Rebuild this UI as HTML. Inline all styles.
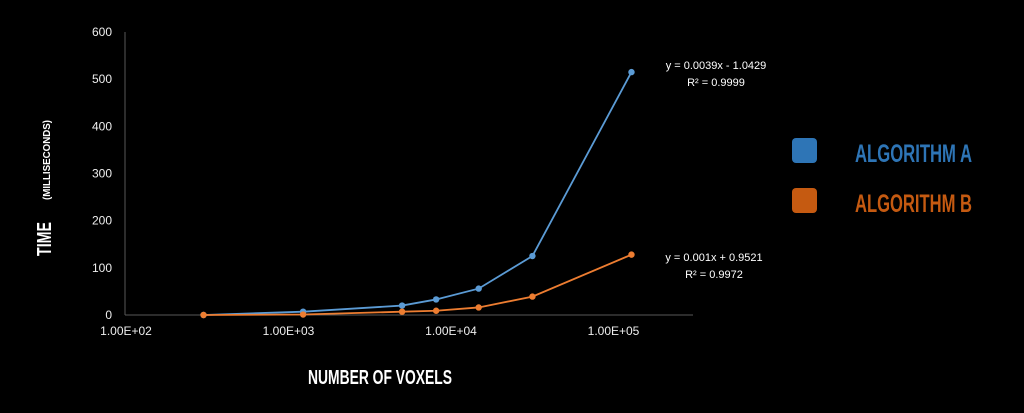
<!DOCTYPE html>
<html><head><meta charset="utf-8"><style>
body{margin:0;background:#000;}
svg{display:block;}
.cond{font-family:"Liberation Sans",sans-serif;font-weight:bold;}
</style></head><body>
<svg id="chart" width="1024" height="413" viewBox="0 0 1024 413" xmlns="http://www.w3.org/2000/svg">
<rect width="1024" height="413" fill="#000"/>
<g id="axes"></g>
<g id="series"></g>
<text x="716" y="69" fill="#fff" font-family="Liberation Sans, sans-serif" font-size="11" text-anchor="middle">y = 0.0039x - 1.0429</text>
<text x="716" y="86" fill="#fff" font-family="Liberation Sans, sans-serif" font-size="11" text-anchor="middle">R² = 0.9999</text>
<text x="714" y="261" fill="#fff" font-family="Liberation Sans, sans-serif" font-size="11" text-anchor="middle">y = 0.001x + 0.9521</text>
<text x="714" y="278" fill="#fff" font-family="Liberation Sans, sans-serif" font-size="11" text-anchor="middle">R² = 0.9972</text>
<g>
<rect x="792" y="138" width="25" height="25" rx="4" fill="#2e75b6"/>
<text class="cond" x="855" y="162" fill="#2e75b6" font-size="25" textLength="117" lengthAdjust="spacingAndGlyphs">ALGORITHM A</text>
<rect x="792" y="188" width="25" height="25" rx="4" fill="#c55a11"/>
<text class="cond" x="855" y="212" fill="#c55a11" font-size="25" textLength="117" lengthAdjust="spacingAndGlyphs">ALGORITHM B</text>
</g>
<text class="cond" x="380" y="384" fill="#fff" font-size="20" text-anchor="middle" textLength="144" lengthAdjust="spacingAndGlyphs">NUMBER OF VOXELS</text>
<text class="cond" transform="translate(51,239) rotate(-90)" fill="#fff" font-size="20" text-anchor="middle" textLength="34" lengthAdjust="spacingAndGlyphs">TIME</text>
<text class="cond" transform="translate(50,160) rotate(-90)" fill="#fff" font-size="10" text-anchor="middle" textLength="80" lengthAdjust="spacingAndGlyphs">(MILLISECONDS)</text>
</svg>
<script>
const voxelsA = [300, 1230, 5000, 8100, 14800, 31700, 129000];
const timesA = [0, 7, 20, 33, 56, 125, 515];
const voxelsB = [300, 1230, 5000, 8100, 14800, 31700, 129000];
const timesB = [0, 1, 7, 9, 16, 39, 128];
const yTicks = [0, 100, 200, 300, 400, 500, 600];
const xTicks = [100, 1000, 10000, 100000];
const xTickLabels = ["1.00E+02", "1.00E+03", "1.00E+04", "1.00E+05"];

const NS = "http://www.w3.org/2000/svg";
const x0 = 126, dec = 162.5, yB = 315, yT = 32;
function xs(v){ return x0 + (Math.log10(v) - 2) * dec; }
function ys(v){ return yB - v / 600 * (yB - yT); }
function mk(tag, attrs, parent){ const e = document.createElementNS(NS, tag); for (const k in attrs) e.setAttribute(k, attrs[k]); parent.appendChild(e); return e; }
const axes = document.getElementById('axes');
const series = document.getElementById('series');

const yl = mk('line', {x1:125, x2:125, y1:yT, y2:yB, stroke:'#595959', 'stroke-width':1}, axes);


const xl = mk('line', {x1:125, x2:693, y1:yB, y2:yB, stroke:'#595959', 'stroke-width':1}, axes);



yTicks.forEach(t => {
  const e = mk('text', {x:112, y:ys(t)+4, fill:'#eee', 'font-family':'Liberation Sans, sans-serif', 'font-size':12, 'text-anchor':'end'}, axes);
  e.textContent = t;
  
  
});
xTicks.forEach((t, i) => {
  const e = mk('text', {x:xs(t), y:335, fill:'#eee', 'font-family':'Liberation Sans, sans-serif', 'font-size':12, 'text-anchor':'middle'}, axes);
  e.textContent = xTickLabels[i];
  
  
});

function drawSeries(xv, yv, color, name){
  const pts = xv.map((v, i) => xs(v) + ',' + ys(yv[i])).join(' ');
  const pl = mk('polyline', {points:pts, fill:'none', stroke:color, 'stroke-width':1.8}, series);
  
  
  xv.forEach((v, i) => {
    const c = mk('circle', {cx:xs(v), cy:ys(yv[i]), r:3.2, fill:color}, series);
    
    
  });
}
drawSeries(voxelsA, timesA, '#5b9bd5', 'algorithm-a');
drawSeries(voxelsB, timesB, '#ed7d31', 'algorithm-b');
</script>
</body></html>
